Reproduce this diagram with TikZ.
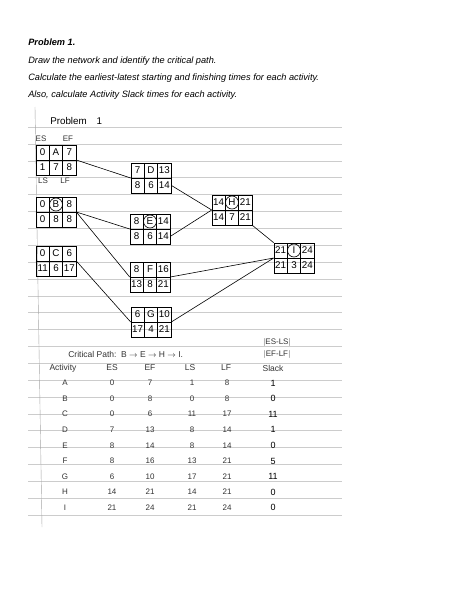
\documentclass[tikz,border=0pt]{standalone}
\usepackage{fontspec}
\setmainfont{Liberation Sans}
\begin{document}
\begin{tikzpicture}[x=1pt, y=-1pt, line width=.6pt,
    box/.style={draw, minimum width=40pt, minimum height=30pt, inner sep=0pt},
    cell/.style={font=\fontsize{9.8}{10}\selectfont, inner sep=0pt},
    tab/.style={font=\fontsize{8}{8}\selectfont, inner sep=0pt, text=black!80},
    hdr/.style={font=\fontsize{9.2}{10}\selectfont\itshape, anchor=west, inner sep=0pt}]
\useasboundingbox (0,0) rectangle (474,613);
\fill[white] (0,0) rectangle (474,613);
% ruled paper
\foreach \k in {0,...,23}
{
    \draw[black!20, line width=.4pt](28,127+16.87*\k)--(342,127+16.87*\k);
}
\draw[black!35, line width=.4pt](35,107)--(42,527);

\node[hdr, font=\fontsize{9.2}{10}\selectfont\bfseries\itshape] (title) at (28,42) {Problem 1.};
\node[hdr] (task1) at (28,61) {Draw the network and identify the critical path.};
\node[hdr] (task2) at (28,78) {Calculate the earliest-latest starting and finishing times for each activity.};
\node[hdr] (task3) at (28,95) {Also, calculate Activity Slack times for each activity.};

\node[cell, anchor=west] (hw) at (50,121) {Problem\quad 1};
\node[tab] (es-lbl) at (41,139) {ES};
\node[tab] (ef-lbl) at (68,139) {EF};
\node[tab] (ls-lbl) at (43,181) {LS};
\node[tab] (lf-lbl) at (65,181) {LF};

% activity boxes
\foreach \n/\x/\y/\es/\ef/\ls/\d/\lf in {A/56/160/0/7/1/7/8, D/151/178/7/13/8/6/14,
    B/56/212/0/8/0/8/8, E/150/229/8/14/8/6/14, C/56/261/0/6/11/6/17,
    F/150/277/8/16/13/8/21, G/151/322/6/10/17/4/21, H/232/210/14/21/14/7/21,
    I/294/258/21/24/21/3/24}
{
    \node[box] (\n) at (\x,\y) {};
    \draw (\n.west)--(\n.east) (\x-6.67,\y-15)--(\x-6.67,\y+15) (\x+6.67,\y-15)--(\x+6.67,\y+15);
    \node[cell] (\n-es) at (\x-13.33,\y-7.5) {\es};
    \node[cell] (\n-act) at (\x,\y-7.5) {\n};
    \node[cell] (\n-ef) at (\x+13.33,\y-7.5) {\ef};
    \node[cell] (\n-ls) at (\x-13.33,\y+7.5) {\ls};
    \node[cell] (\n-d) at (\x,\y+7.5) {\d};
    \node[cell] (\n-lf) at (\x+13.33,\y+7.5) {\lf};
}
\foreach \n in {B,E,H,I}
{
    \draw (\n-act) circle[radius=6.5pt];
}
\draw (A.east)--(D.west) (B.east)--(E.west) (B.east)--(F.west) (C.east)--(G.west)
    (D.-20)--(H.west) (E.-20)--(H.west) (H.south east)--(I.north west)
    (F.east)--(I.west) (G.east)--(I.west);

\node[tab, anchor=west, font=\fontsize{8.5}{9}\selectfont] (cp) at (68,354) {Critical Path:\ \ B $\to$ E $\to$ H $\to$ I.};
\node[tab] (abs1) at (277,342) {$|$ES-LS$|$};
\node[tab] (abs2) at (277,354) {$|$EF-LF$|$};

% table
\foreach \c/\x/\t in {act/63/Activity, es/112/ES, ef/150/EF, ls/190/LS, lf/226/LF, sl/273/Slack}
{
    \node[tab, font=\fontsize{8.5}{9}\selectfont] (head-\c) at (\x,368) {\t};
}
\foreach \m/\es/\ef/\ls/\lf/\s [count=\k from 0] in {A/0/7/1/8/1, B/0/8/0/8/0,
    C/0/6/11/17/11, D/7/13/8/14/1, E/8/14/8/14/0, F/8/16/13/21/5,
    G/6/10/17/21/11, H/14/21/14/21/0, I/21/24/21/24/0}
{
    \node[tab] (row-\m) at (65,383+15.6*\k) {\m};
    \node[tab] (tes-\m) at (112,383+15.6*\k) {\es};
    \node[tab] (tef-\m) at (150,383+15.6*\k) {\ef};
    \node[tab] (tls-\m) at (192,383+15.6*\k) {\ls};
    \node[tab] (tlf-\m) at (227,383+15.6*\k) {\lf};
    \node[tab, font=\fontsize{9}{9}\selectfont, text=black] (tsl-\m) at (273,383+15.6*\k) {\s};
}
\end{tikzpicture}
\end{document}
